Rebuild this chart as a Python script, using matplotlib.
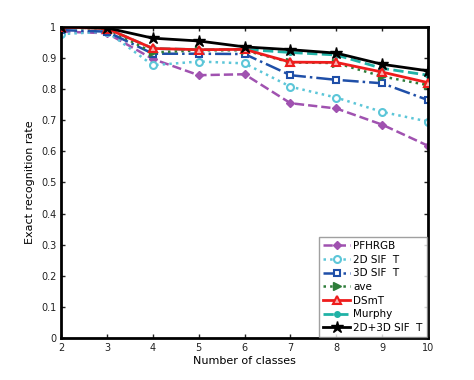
import matplotlib
matplotlib.use("Agg")
import matplotlib.pyplot as plt

classes = [2, 3, 4, 5, 6, 7, 8, 9, 10]

pfhrgb = [0.985, 0.98, 0.897, 0.845, 0.848, 0.755, 0.738, 0.686, 0.618]
sif_2d = [0.977, 0.985, 0.877, 0.889, 0.883, 0.808, 0.773, 0.727, 0.696]
sif_3d = [0.99, 0.985, 0.914, 0.914, 0.913, 0.845, 0.83, 0.819, 0.765]
ave = [0.998, 0.994, 0.918, 0.925, 0.925, 0.886, 0.884, 0.841, 0.813]
dsmt = [1.0, 0.995, 0.931, 0.927, 0.928, 0.887, 0.886, 0.855, 0.821]
murphy = [1.0, 0.995, 0.931, 0.927, 0.928, 0.918, 0.91, 0.867, 0.845]
sif_2d3d = [1.0, 0.997, 0.964, 0.955, 0.936, 0.927, 0.916, 0.88, 0.859]

fig = plt.figure(figsize=(4.74, 3.8), dpi=100)
ax = fig.add_axes([0.129, 0.1105, 0.774, 0.8185])

ax.plot(classes, pfhrgb, color="#a052b0", ls="--", lw=1.8, marker="D",
        ms=4.5, mfc="#a052b0", mec="#a052b0", label="PFHRGB")
ax.plot(classes, sif_2d, color="#5cc6d8", ls=":", lw=1.8, marker="o",
        ms=5, mfc="white", mec="#5cc6d8", mew=1.5, label="2D SIF  T")
ax.plot(classes, sif_3d, color="#1f4fa8", ls="-.", lw=1.8, marker="s",
        ms=4.5, mfc="white", mec="#1f4fa8", mew=1.5, label="3D SIF  T")
ax.plot(classes, ave, color="#2e7d3a", ls=":", lw=1.8, marker=">",
        ms=5.5, mfc="#2e7d3a", mec="#2e7d3a", label="ave")
ax.plot(classes, dsmt, color="#ee1c1c", ls="-", lw=2, marker="^",
        ms=6, mfc="#f8b0b0", mec="#ee1c1c", mew=1.5, label="DSmT",
        zorder=3)
ax.plot(classes, murphy, color="#20b2a6", ls="--", lw=2, marker="o",
        ms=4, mfc="#20b2a6", mec="#20b2a6", label="Murphy", zorder=2.5)
ax.plot(classes, sif_2d3d, color="black", ls="-", lw=2, marker="*",
        ms=9, mfc="black", mec="black", label="2D+3D SIF  T", zorder=3.5)

ax.set_xlim(2, 10)
ax.set_ylim(0, 1)
ax.set_xticks(classes)
ax.set_yticks([i / 10 for i in range(11)])
ax.set_yticklabels(["0", "0.1", "0.2", "0.3", "0.4", "0.5", "0.6", "0.7",
                    "0.8", "0.9", "1"])
ax.tick_params(direction="in", labelsize=7, length=3, width=1,
               colors="#222222", top=True, right=True)
for spine in ax.spines.values():
    spine.set_linewidth(2)

ax.set_xlabel("Number of classes", fontsize=8, labelpad=2)
ax.set_ylabel("Exact recognition rate", fontsize=8, labelpad=4)

leg = ax.legend(loc="lower right", fontsize=7.5, frameon=True, fancybox=False,
                edgecolor="#888888", borderaxespad=0.1, handlelength=2.6,
                labelspacing=0.35, borderpad=0.4, handletextpad=0.3)
leg.get_frame().set_linewidth(1)

fig.savefig("out.png", dpi=100)
